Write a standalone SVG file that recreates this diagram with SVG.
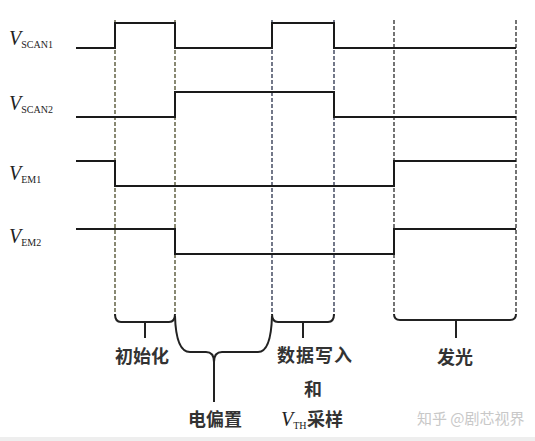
<svg xmlns="http://www.w3.org/2000/svg" width="535" height="441" viewBox="0 0 535 441">
<style>
.sig{fill:none;stroke:#1a1a1a;stroke-width:2;stroke-linejoin:miter}
.dash{fill:none;stroke:#2a2a2a;stroke-width:1.3;stroke-dasharray:4,2}
.br{fill:none;stroke:#222;stroke-width:2}
.v{font-family:"Liberation Serif",serif;font-style:italic;font-size:20px;fill:#222}
.sub{font-family:"Liberation Serif",serif;font-size:10px;fill:#222}
.cn{font-family:"Noto Sans CJK SC","Noto Sans",sans-serif;font-size:18px;font-weight:bold;fill:#333}
.wm{font-family:"Noto Sans CJK SC","Noto Sans",sans-serif;font-size:15px;fill:#c8c8c8}
</style>
<rect width="535" height="441" fill="#fff"/>
<rect x="0" y="437" width="535" height="4" fill="#eeeeee"/>
<g id="dashes">
<line class="dash" x1="115" y1="20" x2="115" y2="316" style="stroke:#4a4a28"/>
<line class="dash" x1="175" y1="20" x2="175" y2="314" style="stroke:#4a4a28"/>
<line class="dash" x1="272" y1="20" x2="272" y2="314" style="stroke:#28304a"/>
<line class="dash" x1="334" y1="20" x2="334" y2="316" style="stroke:#28304a"/>
<line class="dash" x1="394" y1="20" x2="394" y2="314"/>
<line class="dash" x1="516" y1="20" x2="516" y2="314"/>
</g>
<g id="labels">
<text class="v" x="9" y="45">V<tspan class="sub" dy="3" font-style="normal">SCAN1</tspan></text>
<text class="v" x="9" y="110">V<tspan class="sub" dy="3" font-style="normal">SCAN2</tspan></text>
<text class="v" x="9" y="180">V<tspan class="sub" dy="3" font-style="normal">EM1</tspan></text>
<text class="v" x="9" y="243">V<tspan class="sub" dy="3" font-style="normal">EM2</tspan></text>
</g>
<g id="signals">
<path id="scan1" class="sig" d="M76 48H115V23H175V48H272V23H334V48H516"/>
<path id="scan2" class="sig" d="M76 117H175V92H334V117H516"/>
<path id="em1" class="sig" d="M76 161H115V186H394V161H516"/>
<path id="em2" class="sig" d="M76 229H175V254H394V229H516"/>
</g>
<g id="braces">
<path class="br" d="M115 314Q115 322 121 322H169Q175 322 175 314M145 322V338"/>
<path class="br" d="M175 316Q176 352 190 352H206Q214 352 214 362V402M214 362Q214 352 222 352H258Q271 352 272 316"/>
<path class="br" d="M272 314Q272 322 278 322H328Q334 322 334 314M303 322V338"/>
<path class="br" d="M394 314Q394 320 400 320H510Q516 320 516 314M456 320V338"/>
</g>
<g id="texts">
<text class="cn" x="142" y="363" text-anchor="middle">初始化</text>
<text class="cn" x="215" y="426" text-anchor="middle">电偏置</text>
<text class="cn" x="315" y="362" text-anchor="middle" letter-spacing="1">数据写入</text>
<text class="cn" x="313" y="396" text-anchor="middle">和</text>
<text class="v" x="281" y="426">V<tspan class="sub" dy="3" font-style="normal">TH</tspan></text>
<text class="cn" x="307" y="426">采样</text>
<text class="cn" x="455" y="364" text-anchor="middle">发光</text>
<text class="wm" x="417" y="424">知乎 @剧芯视界</text>
</g>
</svg>
